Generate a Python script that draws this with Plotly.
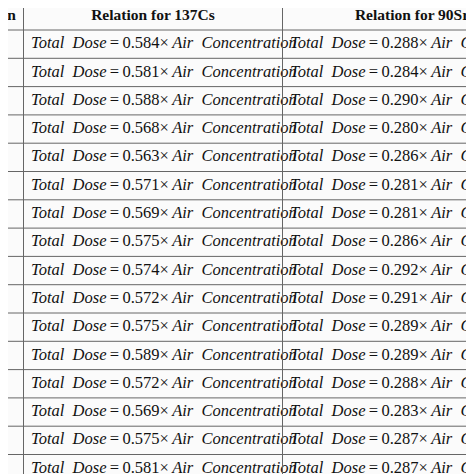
import plotly.graph_objects as go

headers = ["Location", "Relation for 137Cs", "Relation for 90Sr"]
cs_coef = ["0.584", "0.581", "0.588", "0.568", "0.563", "0.571", "0.569", "0.575",
           "0.574", "0.572", "0.575", "0.589", "0.572", "0.569", "0.575", "0.581"]
sr_coef = ["0.288", "0.284", "0.290", "0.280", "0.286", "0.281", "0.281", "0.286",
           "0.292", "0.291", "0.289", "0.289", "0.288", "0.283", "0.287", "0.287"]

HEADER_BOTTOM = 22.0
ROW_H = 28.3
COL1_X, COL2_X = 15.5, 274.5
FONT = '"Liberation Serif", "Times New Roman", serif'

def eq(c):
    return f"<i>Total  Dose</i>\u2009=\u2009{c}\u00d7\u2009<i>Air  Concentration</i>"

n = len(cs_coef)
row_y = [HEADER_BOTTOM + ROW_H * (i + 0.5) for i in range(n)]

fig = go.Figure()
fig.add_trace(go.Scatter(x=[23] * n, y=row_y, mode="text", text=[eq(c) for c in cs_coef],
                         textposition="middle right", textfont=dict(family=FONT, size=16.5, color="#111"),
                         hoverinfo="skip", showlegend=False))
fig.add_trace(go.Scatter(x=[282] * n, y=row_y, mode="text", text=[eq(c) for c in sr_coef],
                         textposition="middle right", textfont=dict(family=FONT, size=16.5, color="#111"),
                         hoverinfo="skip", showlegend=False))
fig.add_trace(go.Scatter(x=[8, 145, 404], y=[8, 8, 8], mode="text",
                         text=[f"<b>{h}</b>" for h in headers],
                         textposition=["middle left", "middle center", "middle center"],
                         textfont=dict(family=FONT, size=15.5, color="#111"),
                         hoverinfo="skip", showlegend=False))

shapes = []
for i in range(n):
    y = HEADER_BOTTOM + ROW_H * i
    shapes.append(dict(type="line", x0=0, x1=474, y0=y, y1=y, xref="x", yref="y",
                       line=dict(color="#666", width=1)))
for x in (COL1_X, COL2_X):
    shapes.append(dict(type="line", x0=x, x1=x, y0=-5, y1=480, xref="x", yref="y",
                       line=dict(color="#666", width=1)))

fig.update_layout(width=474, height=474, margin=dict(l=0, r=0, t=0, b=0),
                  paper_bgcolor="#fbfbfb", plot_bgcolor="#fbfbfb", shapes=shapes,
                  xaxis=dict(range=[0, 474], visible=False, fixedrange=True),
                  yaxis=dict(range=[474, 0], visible=False, fixedrange=True))
fig.write_html("out.html")
